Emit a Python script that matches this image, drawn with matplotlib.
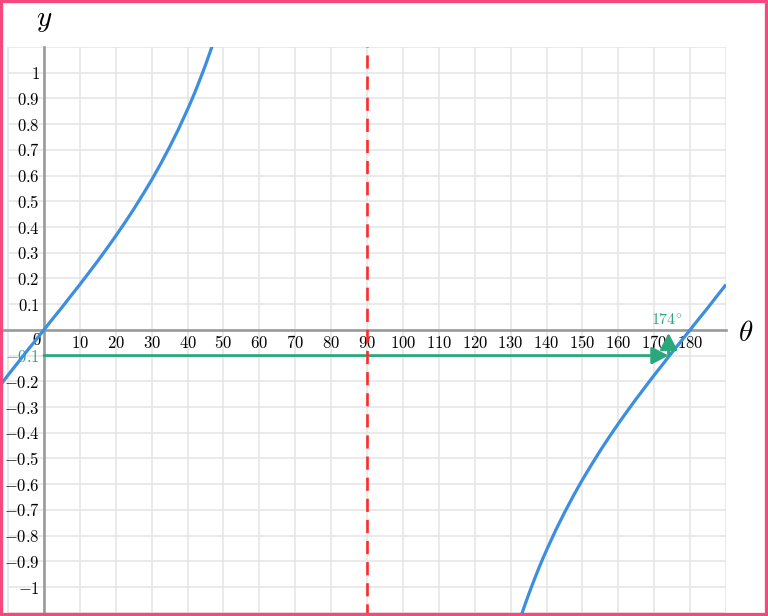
"""Graph of y = tan(theta) with the asymptote at 90 and the solution of tan = -0.1"""

import matplotlib
matplotlib.use("Agg")
import matplotlib.pyplot as plt
from matplotlib.patches import Rectangle

# values
theta_left = [-12, -10, -7.5, -5, -2.5, 0, 2.5, 5, 7.5, 10, 12.5, 15, 17.5, 20, 22.5, 25,
              27.5, 30, 32.5, 35, 37.5, 40, 41, 42, 43, 44, 45, 46, 47, 48]
y_left = [-0.213, -0.176, -0.132, -0.087, -0.044, 0.0, 0.044, 0.087, 0.132, 0.176,
          0.222, 0.268, 0.316, 0.365, 0.416, 0.469, 0.525, 0.583, 0.645, 0.711,
          0.781, 0.857, 0.889, 0.922, 0.957, 0.993, 1.030, 1.069, 1.109, 1.152]
theta_right = [132, 133, 134, 135, 136, 137, 138, 139, 140, 142.5, 145, 147.5, 150, 152.5,
               155, 157.5, 160, 162.5, 165, 167.5, 170, 172.5, 175, 177.5, 180, 182.5,
               185, 187.5, 190]
y_right = [-1.152, -1.109, -1.069, -1.030, -0.993, -0.957, -0.922, -0.889, -0.857,
           -0.781, -0.711, -0.645, -0.583, -0.525, -0.469, -0.416, -0.365, -0.316,
           -0.268, -0.222, -0.176, -0.132, -0.087, -0.044, 0.0, 0.044, 0.087, 0.132, 0.176]

asymptote = 90
solution_theta = 174
solution_y = -0.1

x_ticks = [10, 20, 30, 40, 50, 60, 70, 80, 90, 100, 110, 120, 130, 140, 150, 160, 170, 180]
y_ticks = [1, 0.9, 0.8, 0.7, 0.6, 0.5, 0.4, 0.3, 0.2, 0.1,
           -0.1, -0.2, -0.3, -0.4, -0.5, -0.6, -0.7, -0.8, -0.9, -1]
grid_x = [-10, 0, 10, 20, 30, 40, 50, 60, 70, 80, 90, 100, 110, 120, 130, 140,
          150, 160, 170, 180, 190]
grid_y = [-1.1, -1.0, -0.9, -0.8, -0.7, -0.6, -0.5, -0.4, -0.3, -0.2, -0.1, 0.0,
          0.1, 0.2, 0.3, 0.4, 0.5, 0.6, 0.7, 0.8, 0.9, 1.0, 1.1]

BLUE = "#3c8ee0"
RED = "#ff2b2b"
GREEN = "#2aa87c"
PINK = "#f7477f"
AXIS = "#9a9a9a"
GRID = "#e4e4e4"


def fmt(v):
	return "$" + ("%g" % v) + "$"


def main():
	plt.rcParams["mathtext.fontset"] = "cm"
	plt.rcParams["font.family"] = "serif"
	plt.rcParams["font.serif"] = ["DejaVu Serif"]

	fig = plt.figure(figsize=(7.68, 6.16), dpi=100)
	ax = fig.add_axes([3 / 768, 2 / 616, 723 / 768, 567 / 616])
	ax.set_xlim(-11.4, 190)
	ax.set_ylim(-1.105, 1.1)

	# grid, kept inside the -10..190 box
	ax.vlines(grid_x, -1.1, 1.1, color=GRID, lw=1.1, zorder=0)
	ax.hlines(grid_y, -10, 190, color=GRID, lw=1.1, zorder=0)

	# axes through the origin
	for side in ["top", "right"]:
		ax.spines[side].set_visible(False)
	ax.spines["left"].set_position(("data", 0))
	ax.spines["bottom"].set_position(("data", 0))
	for side in ["left", "bottom"]:
		ax.spines[side].set_color(AXIS)
		ax.spines[side].set_linewidth(1.9)
	ax.patch.set_visible(False)

	ax.set_xticks(x_ticks)
	ax.set_xticklabels([fmt(v) for v in x_ticks])
	ax.set_yticks(y_ticks)
	ax.set_yticklabels([fmt(v) for v in y_ticks])
	ax.tick_params(axis="both", length=0, labelsize=12)
	ax.tick_params(axis="x", pad=4)
	ax.tick_params(axis="y", pad=3)
	for lab, v in zip(ax.get_yticklabels(), y_ticks):
		if v == solution_y:
			lab.set_color(GREEN)
	ax.text(-2.1, -0.04, "$0$", fontsize=12, ha="center", va="center")

	# tan curve, two branches
	ax.plot(theta_left, y_left, color=BLUE, lw=2.3, zorder=3, solid_capstyle="butt")
	ax.plot(theta_right, y_right, color=BLUE, lw=2.3, zorder=3, solid_capstyle="butt")

	# asymptote
	ax.plot([asymptote, asymptote], [-1.2, 1.2], color=RED, lw=1.9,
		dashes=(5, 3), zorder=5)

	# reading the solution
	style = "-|>,head_length=0.5,head_width=0.26"
	ax.annotate("", xy=(solution_theta, solution_y), xytext=(0, solution_y),
		arrowprops=dict(arrowstyle=style, color=GREEN, lw=2.0, mutation_scale=20,
			shrinkA=0, shrinkB=0), zorder=4)
	ax.annotate("", xy=(solution_theta, -0.012), xytext=(solution_theta, solution_y),
		arrowprops=dict(arrowstyle=style, color=GREEN, lw=2.0, mutation_scale=20,
			shrinkA=0, shrinkB=0), zorder=4)
	ax.text(solution_theta - 0.5, 0.036, "$174^{\\circ}$", color=GREEN, fontsize=11.5,
		ha="center", va="center")

	# axis names
	fig.text(44 / 768, 1 - 20 / 616, "$y$", fontsize=21, ha="center", va="center")
	fig.text(746 / 768, 1 - 333 / 616, "$\\theta$", fontsize=21, ha="center", va="center")

	# pink frame
	fig.patches.append(Rectangle((0, 0), 1, 1, transform=fig.transFigure, fill=False,
		edgecolor=PINK, lw=4.5, zorder=10))

	fig.savefig("out.png", dpi=100)


if __name__ == "__main__":
	main()
